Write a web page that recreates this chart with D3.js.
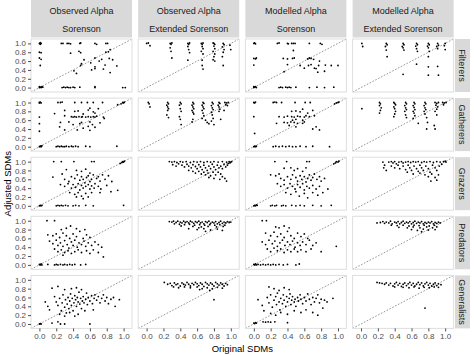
<!DOCTYPE html>
<html><head><meta charset="utf-8">
<script src="https://cdn.jsdelivr.net/npm/d3@7"></script>
<style>body{margin:0;background:#fff}svg{display:block}text{font-family:"Liberation Sans",Arial,sans-serif}</style>
</head><body><svg id="c" width="474" height="355"></svg>
<script>
const colLabels = [["Observed Alpha","Sorenson"],["Observed Alpha","Extended Sorenson"],["Modelled Alpha","Sorenson"],["Modelled Alpha","Extended Sorenson"]];
const rowLabels = ["Filterers","Gatherers","Grazers","Predators","Generalists"];
const tickValues = [0,0.2,0.4,0.6,0.8,1.0];
const tickLabels = ["0.0","0.2","0.4","0.6","0.8","1.0"];

const filterersObsSor = [[0,1],[0.01,0.98],[0.02,1],[0.01,1.02],[0.26,1],[0.28,1],[0.33,1],[0.35,1],[0.37,0.99],[0.48,1],[0.49,1.01],[0.66,1],[0.68,0.98],[0.79,1],[0.81,1],[0,0.8],[0.02,0.79],[0.37,0.78],[0.47,0.82],[0.49,0.79],[0.79,0.8],[0.82,0.81],[0.84,0.86],[0,0.67],[0.02,0.64],[0.53,0.63],[0.66,0.67],[0.74,0.64],[0.83,0.66],[0.87,0.63],[0.71,0.6],[0.01,0.5],[0.49,0.5],[0.5,0.54],[0.61,0.56],[0.66,0.47],[0.78,0.51],[0.92,0.49],[0.41,0.38],[0.62,0.4],[0.76,0.42],[0.84,0.34],[0.66,0.43],[0.44,0.32],[0,0],[0.01,0.01],[0.02,0],[0.03,0.02],[0,0.02],[0.04,0.01],[0.27,0],[0.29,0.01],[0.31,0],[0.33,0.01],[0.35,0],[0.37,0],[0.4,0.01],[0.42,0],[0.48,0.01],[0.66,0],[0.66,0.02],[0.99,0],[1.02,0]];
const filterersObsExt = [[0,1],[0.02,1.01],[0.04,0.95],[0.28,1],[0.29,0.98],[0.3,1.01],[0.28,0.9],[0.29,0.82],[0.3,0.67],[0.49,1],[0.5,0.98],[0.51,1.01],[0.49,0.93],[0.5,0.86],[0.51,0.79],[0.49,0.62],[0.65,1],[0.66,0.98],[0.67,1.01],[0.66,0.93],[0.67,0.88],[0.65,0.82],[0.67,0.76],[0.66,0.62],[0.66,0.5],[0.67,0.42],[0.8,1],[0.81,0.98],[0.79,1.01],[0.8,0.94],[0.81,0.88],[0.79,0.82],[0.81,0.76],[0.8,0.7],[0.79,0.63],[0.81,0.6],[0.91,1],[0.92,0.97],[0.9,0.92],[0.92,0.86],[0.91,0.8],[0.9,0.7],[0.91,0.5],[0.99,0.96],[1.0,0.86]];
const filterersModSor = [[0,1],[0.01,1.01],[0.02,0.99],[0.28,1],[0.3,1.01],[0.4,1],[0.41,0.99],[0.45,1],[0.47,1],[0.49,1],[0.66,1],[0.79,1],[0.81,0.98],[0.47,0.84],[0,0.66],[0.02,0.65],[0.03,0.67],[0.35,0.66],[0.4,0.65],[0.46,0.66],[0.48,0.67],[0.64,0.65],[0.66,0.67],[0.68,0.66],[0.71,0.64],[0.78,0.6],[0,0.51],[0.4,0.52],[0.55,0.5],[0.65,0.5],[0.68,0.52],[0.77,0.5],[0.85,0.51],[0.92,0.5],[1.0,0.5],[0.72,0.44],[0.6,0.44],[0.74,0.43],[0.36,0.36],[0.76,0.35],[0.84,0.37],[0,0],[0.01,0.01],[0.02,0.02],[0.03,0],[0,0.02],[0.3,0],[0.32,0.01],[0.34,0],[0.38,0.01],[0.4,0],[0.42,0.01],[0.44,0],[0.5,0.01],[0.66,0],[0.75,0.01],[0.84,0],[0.95,0.01]];
const filterersModExt = [[0.01,1],[0.02,0.93],[0.3,1],[0.31,0.97],[0.29,0.93],[0.3,0.85],[0.31,0.7],[0.5,1],[0.51,0.97],[0.49,0.93],[0.5,0.9],[0.51,0.85],[0.5,0.3],[0.66,1],[0.67,0.97],[0.65,0.94],[0.66,0.88],[0.67,0.82],[0.66,0.53],[0.8,1],[0.81,0.97],[0.79,0.94],[0.8,0.9],[0.81,0.82],[0.8,0.7],[0.8,0.47],[0.8,0.28],[0.91,1],[0.92,0.96],[0.9,0.93],[0.91,0.88],[0.91,0.48],[0.92,0.28],[1.0,1],[0.99,0.95],[1.0,0.86]];

const gatherersObsSor = [[0,1],[0.01,1.01],[0.02,0.99],[0,0.99],[0.22,1],[0.25,1],[0.27,1.01],[0.42,1],[0.5,1],[0.57,1],[0.64,1],[0.75,1],[0.99,1],[1.0,0.99],[1.01,1.01],[0.97,0.97],[0.93,0.95],[0.3,0.82],[0.42,0.8],[0.46,0.81],[0.58,0.83],[0.64,0.79],[0.6,0.87],[0.7,0.86],[0.18,0.75],[0,0.67],[0.38,0.68],[0.4,0.67],[0.42,0.68],[0.44,0.67],[0.47,0.68],[0.5,0.67],[0.51,0.68],[0.55,0.67],[0.58,0.68],[0.61,0.67],[0.64,0.68],[0.66,0.67],[0.68,0.69],[0.76,0.67],[0.77,0.64],[0.52,0.74],[0.66,0.76],[0.3,0.7],[0,0.52],[0.25,0.55],[0.35,0.56],[0.5,0.55],[0.48,0.52],[0.6,0.56],[0.72,0.54],[0.63,0.5],[0.4,0.5],[0.24,0.45],[0.58,0.46],[0.66,0.44],[0.3,0.38],[0.45,0.38],[0.6,0.37],[0.52,0.42],[0,0.35],[0,0],[0.01,0.01],[0.02,0],[0.03,0.02],[0.02,0.01],[0.2,0],[0.22,0.01],[0.24,0],[0.26,0.01],[0.28,0],[0.3,0],[0.32,0.01],[0.35,0],[0.38,0.01],[0.4,0],[0.43,0.01],[0.46,0],[0.55,0.01],[0.6,0],[0.92,0.01]];
const gatherersObsExt = [[0.02,1],[0.03,0.97],[0.04,0.9],[0.25,1],[0.26,0.97],[0.24,0.94],[0.25,0.9],[0.26,0.86],[0.25,0.82],[0.24,0.72],[0.26,0.66],[0.4,1],[0.41,0.97],[0.39,0.94],[0.4,0.86],[0.41,0.8],[0.39,0.68],[0.4,0.62],[0.41,0.5],[0.55,1],[0.56,0.97],[0.54,0.94],[0.55,0.9],[0.56,0.86],[0.54,0.82],[0.55,0.78],[0.56,0.74],[0.55,0.62],[0.54,0.56],[0.67,1],[0.68,0.98],[0.66,0.94],[0.67,0.9],[0.68,0.86],[0.66,0.82],[0.67,0.76],[0.68,0.7],[0.66,0.64],[0.7,0.6],[0.78,1],[0.79,0.97],[0.77,0.93],[0.78,0.88],[0.79,0.84],[0.77,0.78],[0.78,0.72],[0.79,0.64],[0.77,0.58],[0.8,0.5],[0.86,1],[0.87,0.98],[0.85,0.94],[0.86,0.9],[0.87,0.85],[0.86,0.8],[0.93,1],[0.95,0.99],[0.97,1],[0.94,0.95],[0.96,0.93],[0.92,0.82],[0.88,0.62],[0.72,0.55],[0.74,0.52]];
const gatherersModSor = [[0,1],[0.01,0.99],[0.02,1.01],[0.23,1],[0.25,1.01],[0.27,1],[0.33,1],[0.49,1],[0.61,1],[0.67,1],[0.98,0.99],[1.0,1],[1.01,1.01],[0.96,0.97],[0.45,0.8],[0.5,0.81],[0.55,0.79],[0.58,0.85],[0.64,0.76],[0.7,0.82],[0,0.68],[0.3,0.68],[0.36,0.67],[0.4,0.69],[0.45,0.68],[0.48,0.67],[0.52,0.69],[0.55,0.68],[0.6,0.67],[0.62,0.7],[0.66,0.68],[0.72,0.7],[0.5,0.62],[0.58,0.6],[0.46,0.6],[0.6,0.56],[0.27,0.53],[0.36,0.55],[0.4,0.54],[0.44,0.56],[0.48,0.55],[0.52,0.53],[0.58,0.53],[0.42,0.48],[0.5,0.45],[0.01,0.3],[0.7,0.4],[0.78,0.38],[0.74,0.45],[0,0],[0.01,0.01],[0.02,0],[0.03,0.01],[0.23,0],[0.26,0.01],[0.3,0],[0.34,0.01],[0.38,0],[0.42,0.01],[0.46,0],[0.5,0],[0.55,0.01],[0.62,0],[0.7,0.01],[0.9,0]];
const gatherersModExt = [[0.01,0.86],[0.22,1],[0.23,0.97],[0.22,0.93],[0.24,0.88],[0.23,0.82],[0.22,0.76],[0.39,1],[0.4,0.98],[0.41,0.95],[0.39,0.9],[0.4,0.86],[0.41,0.8],[0.4,0.74],[0.39,0.68],[0.53,1],[0.54,0.97],[0.52,0.93],[0.53,0.88],[0.54,0.84],[0.52,0.8],[0.53,0.72],[0.54,0.66],[0.63,1],[0.64,0.97],[0.62,0.93],[0.63,0.89],[0.64,0.84],[0.62,0.8],[0.63,0.76],[0.64,0.7],[0.62,0.64],[0.76,1],[0.77,0.97],[0.75,0.93],[0.76,0.88],[0.77,0.84],[0.75,0.8],[0.76,0.74],[0.78,0.66],[0.79,0.55],[0.78,0.4],[0.88,1],[0.9,0.98],[0.92,1],[0.89,0.94],[0.91,0.9],[0.9,0.85],[0.88,0.8],[0.9,0.72],[0.87,0.48],[0.88,0.4],[0.97,1],[0.99,0.99],[1.01,1],[0.98,0.95],[0.68,0.53]];

const grazersObsSor = [[0.17,1],[0.26,1],[0.41,1],[0.62,1],[0.65,1],[0.99,1],[1.0,0.99],[1.01,1.01],[0.98,0.98],[0.96,0.96],[0.32,0.82],[0.44,0.8],[0.5,0.78],[0.55,0.83],[0.6,0.74],[0.27,0.72],[0.16,0.65],[0.3,0.6],[0.35,0.55],[0.38,0.66],[0.42,0.62],[0.45,0.7],[0.48,0.58],[0.5,0.66],[0.52,0.6],[0.54,0.52],[0.56,0.64],[0.58,0.68],[0.6,0.55],[0.62,0.6],[0.64,0.7],[0.66,0.5],[0.68,0.62],[0.7,0.66],[0.72,0.56],[0.75,0.7],[0.78,0.6],[0.82,0.68],[0.86,0.55],[0.25,0.48],[0.3,0.44],[0.34,0.5],[0.38,0.4],[0.4,0.48],[0.43,0.42],[0.46,0.5],[0.48,0.36],[0.5,0.46],[0.52,0.4],[0.55,0.44],[0.58,0.48],[0.6,0.38],[0.62,0.45],[0.65,0.4],[0.7,0.44],[0.73,0.38],[0.8,0.46],[0.36,0.3],[0.42,0.26],[0.46,0.3],[0.5,0.22],[0.55,0.28],[0.58,0.2],[0.62,0.3],[0.72,0.3],[0.85,0.32],[0.52,0.16],[0.44,0.2],[0.93,0.35],[0,0],[0.01,0.01],[0.02,0],[0.03,0.01],[0.2,0],[0.22,0.01],[0.24,0],[0.26,0.01],[0.28,0],[0.31,0.01],[0.34,0],[0.4,0],[0.43,0.01],[0.47,0],[0.55,0.01],[0.64,0],[1.0,0.01]];
const grazersObsExt = [[0.27,1],[0.3,0.99],[0.33,1],[0.36,0.98],[0.4,1],[0.43,0.99],[0.47,1],[0.52,0.98],[0.56,1],[0.6,0.99],[0.64,1],[0.68,0.98],[0.72,1],[0.76,0.99],[0.8,1],[0.85,0.99],[0.9,1],[0.95,0.99],[0.98,1],[1.0,0.99],[1.01,1],[0.99,0.97],[0.97,0.96],[0.31,0.93],[0.35,0.9],[0.38,0.95],[0.42,0.92],[0.45,0.88],[0.48,0.94],[0.5,0.9],[0.53,0.86],[0.55,0.93],[0.58,0.89],[0.6,0.84],[0.62,0.93],[0.64,0.88],[0.66,0.82],[0.68,0.92],[0.7,0.86],[0.72,0.8],[0.74,0.9],[0.76,0.84],[0.78,0.94],[0.8,0.88],[0.82,0.82],[0.84,0.92],[0.86,0.86],[0.88,0.9],[0.9,0.84],[0.92,0.94],[0.94,0.88],[0.96,0.92],[0.5,0.8],[0.55,0.78],[0.58,0.74],[0.62,0.78],[0.65,0.72],[0.68,0.76],[0.7,0.7],[0.73,0.74],[0.76,0.68],[0.79,0.76],[0.82,0.7],[0.85,0.76],[0.88,0.72],[0.9,0.66],[0.93,0.62],[0.87,0.6],[0.95,0.56],[0.74,0.64],[0.8,0.62]];
const grazersModSor = [[0.25,1],[0.39,1],[0.63,1],[0.66,1],[0.98,1],[1.0,0.99],[1.01,1.01],[0.97,0.97],[0.95,0.95],[0.36,0.85],[0.44,0.86],[0.48,0.8],[0.52,0.84],[0.58,0.78],[0.62,0.86],[0.2,0.7],[0.26,0.68],[0.3,0.72],[0.32,0.62],[0.36,0.58],[0.4,0.66],[0.44,0.6],[0.46,0.7],[0.5,0.64],[0.52,0.56],[0.55,0.68],[0.57,0.6],[0.6,0.66],[0.62,0.54],[0.64,0.62],[0.66,0.7],[0.68,0.58],[0.7,0.64],[0.72,0.72],[0.75,0.6],[0.78,0.66],[0.8,0.56],[0.84,0.62],[0.28,0.5],[0.32,0.44],[0.36,0.48],[0.4,0.4],[0.43,0.5],[0.46,0.44],[0.49,0.38],[0.52,0.48],[0.55,0.42],[0.58,0.5],[0.6,0.36],[0.63,0.44],[0.66,0.4],[0.7,0.46],[0.74,0.38],[0.78,0.44],[0.88,0.38],[0.38,0.3],[0.44,0.26],[0.5,0.32],[0.54,0.22],[0.6,0.28],[0.64,0.18],[0.7,0.3],[0.76,0.24],[0.82,0.3],[0,0],[0.01,0.01],[0.02,0],[0.03,0.02],[0.04,0.01],[0.2,0],[0.22,0.01],[0.25,0],[0.27,0.01],[0.33,0],[0.35,0.01],[0.38,0],[0.45,0.01],[0.5,0],[0.55,0.01],[0.6,0],[0.7,0.01],[0.8,0],[0.92,0.01]];
const grazersModExt = [[0.26,0.99],[0.28,0.92],[0.27,0.86],[0.3,0.8],[0.33,0.99],[0.36,1],[0.38,0.97],[0.4,1],[0.42,0.95],[0.45,0.99],[0.48,1],[0.5,0.97],[0.53,0.99],[0.56,1],[0.59,0.98],[0.62,1],[0.65,0.99],[0.68,1],[0.72,0.98],[0.75,1],[0.78,0.99],[0.82,1],[0.86,0.98],[0.9,1],[0.94,0.99],[0.98,1],[1.01,0.99],[1.0,1.01],[0.36,0.9],[0.4,0.86],[0.44,0.92],[0.46,0.84],[0.5,0.9],[0.53,0.82],[0.56,0.92],[0.58,0.86],[0.6,0.8],[0.63,0.9],[0.66,0.84],[0.68,0.78],[0.7,0.92],[0.72,0.86],[0.74,0.8],[0.77,0.9],[0.8,0.84],[0.82,0.76],[0.85,0.92],[0.88,0.86],[0.9,0.8],[0.93,0.9],[0.96,0.94],[0.55,0.76],[0.62,0.72],[0.7,0.74],[0.76,0.7],[0.8,0.66],[0.84,0.72],[0.88,0.64],[0.9,0.58],[0.83,0.56],[0.92,0.7]];

const predatorsObsSor = [[0.09,1],[0.18,1],[0.32,0.83],[0.37,0.88],[0.1,0.68],[0.16,0.66],[0.2,0.7],[0.24,0.62],[0.28,0.72],[0.32,0.66],[0.36,0.6],[0.4,0.7],[0.44,0.64],[0.48,0.76],[0.52,0.6],[0.56,0.68],[0.6,0.62],[0.26,0.8],[0.44,0.82],[0.54,0.8],[0.12,0.54],[0.16,0.48],[0.2,0.56],[0.22,0.44],[0.25,0.5],[0.28,0.42],[0.3,0.55],[0.33,0.46],[0.35,0.38],[0.38,0.52],[0.4,0.44],[0.42,0.56],[0.45,0.4],[0.47,0.5],[0.5,0.46],[0.53,0.54],[0.55,0.42],[0.58,0.5],[0.62,0.44],[0.66,0.52],[0.7,0.46],[0.74,0.4],[0.18,0.36],[0.22,0.3],[0.26,0.34],[0.3,0.28],[0.34,0.32],[0.38,0.26],[0.42,0.3],[0.46,0.34],[0.5,0.28],[0.56,0.32],[0.6,0.26],[0.64,0.34],[0.7,0.28],[0.28,0.22],[0.76,0.18],[0,0.01],[0.01,0],[0.02,0.02],[0.03,0],[0.1,0.01],[0.18,0],[0.2,0.01],[0.22,0],[0.25,0.01],[0.28,0],[0.3,0.01],[0.33,0],[0.36,0.01],[0.39,0],[0.42,0.01],[0.49,0],[0.55,0.01]];
const predatorsObsExt = [[0.27,0.98],[0.3,0.97],[0.32,0.99],[0.35,0.96],[0.37,0.99],[0.4,0.97],[0.42,0.95],[0.44,0.99],[0.46,0.96],[0.48,0.98],[0.5,0.95],[0.52,0.99],[0.54,0.97],[0.56,0.94],[0.58,0.98],[0.6,0.96],[0.62,0.99],[0.64,0.95],[0.66,0.97],[0.68,0.93],[0.7,0.98],[0.72,0.96],[0.74,0.99],[0.76,0.94],[0.78,0.97],[0.8,0.95],[0.82,0.98],[0.84,0.93],[0.86,0.96],[0.88,0.99],[0.9,0.94],[0.92,0.97],[0.94,0.95],[0.96,0.98],[0.98,0.96],[1.0,0.97],[0.33,0.93],[0.39,0.92],[0.45,0.91],[0.51,0.92],[0.57,0.9],[0.63,0.91],[0.69,0.9],[0.75,0.91],[0.81,0.9],[0.87,0.91],[0.93,0.9],[0.41,0.88],[0.55,0.87],[0.65,0.86],[0.73,0.87],[0.83,0.86],[0.91,0.87],[0.5,0.82],[0.6,0.8],[0.68,0.82],[0.76,0.79],[0.84,0.81],[0.9,0.78],[0.7,0.76],[0.62,0.84]];
const predatorsModSor = [[0.1,1],[0.15,1],[0.26,0.86],[0.3,0.84],[0.36,0.88],[0.14,0.72],[0.2,0.66],[0.24,0.74],[0.28,0.64],[0.32,0.7],[0.36,0.62],[0.4,0.76],[0.44,0.66],[0.48,0.6],[0.52,0.72],[0.56,0.64],[0.6,0.7],[0.64,0.6],[0.42,0.84],[0.1,0.52],[0.14,0.46],[0.18,0.56],[0.22,0.48],[0.25,0.54],[0.28,0.42],[0.31,0.5],[0.34,0.56],[0.37,0.44],[0.4,0.52],[0.43,0.46],[0.46,0.54],[0.49,0.4],[0.52,0.5],[0.55,0.44],[0.58,0.52],[0.62,0.46],[0.66,0.56],[0.7,0.44],[0.74,0.5],[0.16,0.36],[0.2,0.3],[0.24,0.38],[0.28,0.32],[0.32,0.36],[0.36,0.28],[0.4,0.34],[0.44,0.3],[0.48,0.36],[0.52,0.3],[0.56,0.34],[0.62,0.3],[0.68,0.36],[0.8,0.3],[0.98,0.42],[0,0.01],[0.01,0],[0.02,0.02],[0.03,0],[0.05,0.01],[0.08,0],[0.11,0.01],[0.14,0],[0.17,0.01],[0.2,0],[0.23,0.01],[0.26,0],[0.3,0.01],[0.35,0],[0.4,0.01],[0.5,0],[0.54,0.02]];
const predatorsModExt = [[0.19,0.95],[0.23,0.96],[0.26,0.98],[0.28,0.94],[0.3,0.97],[0.33,0.95],[0.35,0.99],[0.37,0.93],[0.4,0.97],[0.42,0.95],[0.44,0.98],[0.46,0.93],[0.48,0.96],[0.5,0.99],[0.52,0.94],[0.54,0.97],[0.56,0.95],[0.58,0.98],[0.6,0.93],[0.62,0.96],[0.64,0.99],[0.66,0.94],[0.68,0.97],[0.7,0.95],[0.72,0.98],[0.74,0.93],[0.76,0.96],[0.78,0.94],[0.8,0.97],[0.82,0.95],[0.84,0.98],[0.86,0.93],[0.88,0.96],[0.9,0.94],[0.92,0.97],[0.94,0.95],[0.36,0.9],[0.43,0.89],[0.5,0.9],[0.57,0.88],[0.63,0.9],[0.69,0.89],[0.75,0.9],[0.81,0.88],[0.87,0.9],[0.45,0.85],[0.55,0.84],[0.62,0.86],[0.7,0.84],[0.78,0.86],[0.85,0.84],[0.9,0.86],[0.6,0.8],[0.67,0.78],[0.74,0.81],[0.8,0.79],[0.88,0.8],[0.72,0.75]];

const generalistsObsSor = [[0.15,0.81],[0.22,0.85],[0.3,0.78],[0.38,0.8],[0.44,0.82],[0.5,0.78],[0.07,0.5],[0.1,0.4],[0.12,0.32],[0.18,0.62],[0.2,0.5],[0.22,0.42],[0.24,0.58],[0.26,0.3],[0.27,0.48],[0.28,0.66],[0.3,0.38],[0.31,0.55],[0.32,0.25],[0.33,0.45],[0.34,0.6],[0.35,0.35],[0.36,0.52],[0.37,0.68],[0.38,0.42],[0.39,0.58],[0.4,0.3],[0.41,0.48],[0.42,0.64],[0.43,0.55],[0.44,0.4],[0.45,0.6],[0.46,0.5],[0.47,0.72],[0.48,0.45],[0.49,0.58],[0.5,0.35],[0.51,0.52],[0.52,0.62],[0.53,0.48],[0.55,0.56],[0.56,0.7],[0.57,0.44],[0.58,0.6],[0.6,0.52],[0.62,0.64],[0.63,0.46],[0.65,0.58],[0.66,0.66],[0.68,0.54],[0.7,0.62],[0.72,0.48],[0.74,0.58],[0.76,0.66],[0.78,0.52],[0.8,0.6],[0.82,0.46],[0.85,0.56],[0.88,0.6],[0.95,0.55],[0.9,0.4],[0.24,0.22],[0.3,0.18],[0.36,0.26],[0.46,0.22],[0.54,0.3],[0.64,0.32],[0.42,0.18],[0,0],[0.01,0.01],[0.02,0],[0.15,0.02],[0.22,0.05],[0.25,0],[0.3,0],[0.6,0]];
const generalistsObsExt = [[0.21,0.94],[0.25,0.9],[0.28,0.92],[0.3,0.87],[0.33,0.93],[0.35,0.89],[0.37,0.91],[0.4,0.86],[0.42,0.93],[0.44,0.9],[0.46,0.88],[0.48,0.94],[0.5,0.9],[0.52,0.86],[0.54,0.92],[0.56,0.89],[0.58,0.94],[0.6,0.91],[0.62,0.87],[0.64,0.93],[0.66,0.9],[0.68,0.85],[0.7,0.94],[0.72,0.91],[0.74,0.88],[0.76,0.93],[0.78,0.9],[0.8,0.86],[0.82,0.94],[0.84,0.91],[0.86,0.88],[0.88,0.93],[0.9,0.9],[0.92,0.86],[0.94,0.92],[0.96,0.89],[0.32,0.84],[0.38,0.82],[0.45,0.84],[0.52,0.82],[0.6,0.84],[0.66,0.8],[0.72,0.82],[0.78,0.8],[0.84,0.83],[0.9,0.81],[0.63,0.78],[0.75,0.76],[0.8,0.55]];
const generalistsModSor = [[0.18,0.84],[0.24,0.8],[0.3,0.76],[0.36,0.82],[0.42,0.78],[0.05,0.55],[0.1,0.42],[0.12,0.3],[0.16,0.6],[0.18,0.48],[0.2,0.66],[0.22,0.38],[0.24,0.54],[0.26,0.62],[0.27,0.44],[0.28,0.7],[0.3,0.5],[0.31,0.32],[0.32,0.58],[0.34,0.46],[0.35,0.66],[0.36,0.54],[0.38,0.4],[0.39,0.62],[0.4,0.5],[0.42,0.58],[0.43,0.68],[0.44,0.44],[0.45,0.54],[0.46,0.62],[0.48,0.5],[0.49,0.56],[0.5,0.4],[0.52,0.6],[0.53,0.52],[0.55,0.66],[0.56,0.56],[0.58,0.46],[0.6,0.6],[0.62,0.52],[0.64,0.68],[0.66,0.56],[0.68,0.44],[0.7,0.6],[0.72,0.5],[0.74,0.58],[0.76,0.66],[0.78,0.48],[0.8,0.56],[0.84,0.54],[0.87,0.5],[0.94,0.58],[0.82,0.36],[0.2,0.24],[0.26,0.2],[0.32,0.26],[0.4,0.22],[0.48,0.3],[0.56,0.26],[0.62,0.32],[0.7,0.26],[0.76,0.2],[0,0.02],[0.01,0.01],[0.02,0.03],[0.03,0.02],[0.11,0.05],[0.14,0.04],[0.17,0.05],[0.2,0.04],[0.25,0.05],[0.4,0.03]];
const generalistsModExt = [[0.19,0.94],[0.22,0.93],[0.25,0.92],[0.28,0.9],[0.3,0.93],[0.33,0.88],[0.35,0.92],[0.38,0.86],[0.4,0.91],[0.42,0.94],[0.44,0.88],[0.46,0.92],[0.48,0.85],[0.5,0.9],[0.52,0.93],[0.54,0.87],[0.56,0.91],[0.58,0.94],[0.6,0.88],[0.62,0.92],[0.64,0.86],[0.66,0.9],[0.68,0.94],[0.7,0.89],[0.72,0.93],[0.74,0.86],[0.76,0.91],[0.78,0.94],[0.8,0.88],[0.82,0.92],[0.84,0.86],[0.86,0.9],[0.88,0.93],[0.9,0.87],[0.92,0.91],[0.95,0.89],[0.4,0.84],[0.5,0.83],[0.57,0.82],[0.63,0.84],[0.69,0.81],[0.75,0.83],[0.81,0.82],[0.87,0.84],[0.92,0.83],[0.76,0.36]];

const panelData = [
  [filterersObsSor, filterersObsExt, filterersModSor, filterersModExt],
  [gatherersObsSor, gatherersObsExt, gatherersModSor, gatherersModExt],
  [grazersObsSor, grazersObsExt, grazersModSor, grazersModExt],
  [predatorsObsSor, predatorsObsExt, predatorsModSor, predatorsModExt],
  [generalistsObsSor, generalistsObsExt, generalistsModSor, generalistsModExt]
];

const svg = d3.select("#c");
const panelW = 101, panelH = 53, colStep = 107.2, rowStep = 59.1;
const left0 = 31, top0 = 39;
const stripTopY = 0, stripTopH = 37.5, stripRightX = 455, stripRightW = 15;
const x = d3.scaleLinear().domain([-0.1,1.1]).range([0,panelW]);
const y = d3.scaleLinear().domain([-0.1,1.1]).range([panelH,0]);

const defs = svg.append("defs");
defs.append("clipPath").attr("id","pc").append("rect").attr("width",panelW).attr("height",panelH);

colLabels.forEach((lab,c)=>{
  const gx = left0 + c*colStep;
  const g = svg.append("g").attr("transform",`translate(${gx},${stripTopY})`);
  g.append("rect").attr("width",panelW).attr("height",stripTopH).attr("fill","#d9d9d9");
  g.append("text").attr("x",panelW/2).attr("y",11).attr("dy","0.35em").attr("text-anchor","middle")
    .attr("font-size",9).attr("fill","#1a1a1a").text(lab[0]);
  g.append("text").attr("x",panelW/2).attr("y",29).attr("dy","0.35em").attr("text-anchor","middle")
    .attr("font-size",9).attr("fill","#1a1a1a").text(lab[1]);
});
rowLabels.forEach((lab,r)=>{
  const gy = top0 + r*rowStep;
  const g = svg.append("g").attr("transform",`translate(${stripRightX},${gy})`);
  g.append("rect").attr("width",stripRightW).attr("height",panelH).attr("fill","#d9d9d9");
  g.append("text").attr("transform",`translate(${stripRightW/2},${panelH/2}) rotate(90)`)
    .attr("dy","0.35em").attr("text-anchor","middle").attr("font-size",9).attr("fill","#1a1a1a").text(lab);
});

panelData.forEach((row,r)=>{
  row.forEach((pts,c)=>{
    const g = svg.append("g").attr("transform",`translate(${left0 + c*colStep},${top0 + r*rowStep})`);
    g.append("rect").attr("width",panelW).attr("height",panelH).attr("fill","#fff");
    const inner = g.append("g").attr("clip-path","url(#pc)");
    inner.append("line").attr("x1",x(-0.1)).attr("y1",y(-0.1)).attr("x2",x(1.1)).attr("y2",y(1.1))
      .attr("stroke","#666").attr("stroke-width",0.7).attr("stroke-dasharray","1.6,1.6");
    inner.selectAll("circle").data(pts).join("circle")
      .attr("cx",d=>x(d[0])).attr("cy",d=>y(d[1])).attr("r",0.9).attr("fill","#000");
    g.append("rect").attr("width",panelW).attr("height",panelH).attr("fill","none")
      .attr("stroke","#dedede").attr("stroke-width",1);
    if (c===0){
      const ax = g.append("g").call(d3.axisLeft(y).tickValues(tickValues).tickFormat((d,i)=>tickLabels[i]).tickSize(3).tickPadding(2));
      ax.select(".domain").remove();
      ax.selectAll("line").attr("stroke","#4d4d4d");
      ax.selectAll("text").attr("font-size",8).attr("fill","#4d4d4d").attr("font-family","'Liberation Sans',Arial,sans-serif");
    }
    if (r===panelData.length-1){
      const ax = g.append("g").attr("transform",`translate(0,${panelH})`)
        .call(d3.axisBottom(x).tickValues(tickValues).tickFormat((d,i)=>tickLabels[i]).tickSize(3).tickPadding(2));
      ax.select(".domain").remove();
      ax.selectAll("line").attr("stroke","#4d4d4d");
      ax.selectAll("text").attr("font-size",8).attr("fill","#4d4d4d").attr("font-family","'Liberation Sans',Arial,sans-serif");
    }
  });
});

const plotL = left0, plotR = left0 + 3*colStep + panelW;
const plotT = top0, plotB = top0 + 4*rowStep + panelH;
svg.append("text").attr("x",(plotL+plotR)/2).attr("y",349).attr("dy","0.35em").attr("text-anchor","middle")
  .attr("font-size",9.5).attr("fill","#000").text("Original SDMs");
svg.append("text").attr("transform",`translate(8,${(plotT+plotB)/2}) rotate(-90)`).attr("dy","0.35em")
  .attr("text-anchor","middle").attr("font-size",9.5).attr("fill","#000").text("Adjusted SDMs");
</script></body></html>
